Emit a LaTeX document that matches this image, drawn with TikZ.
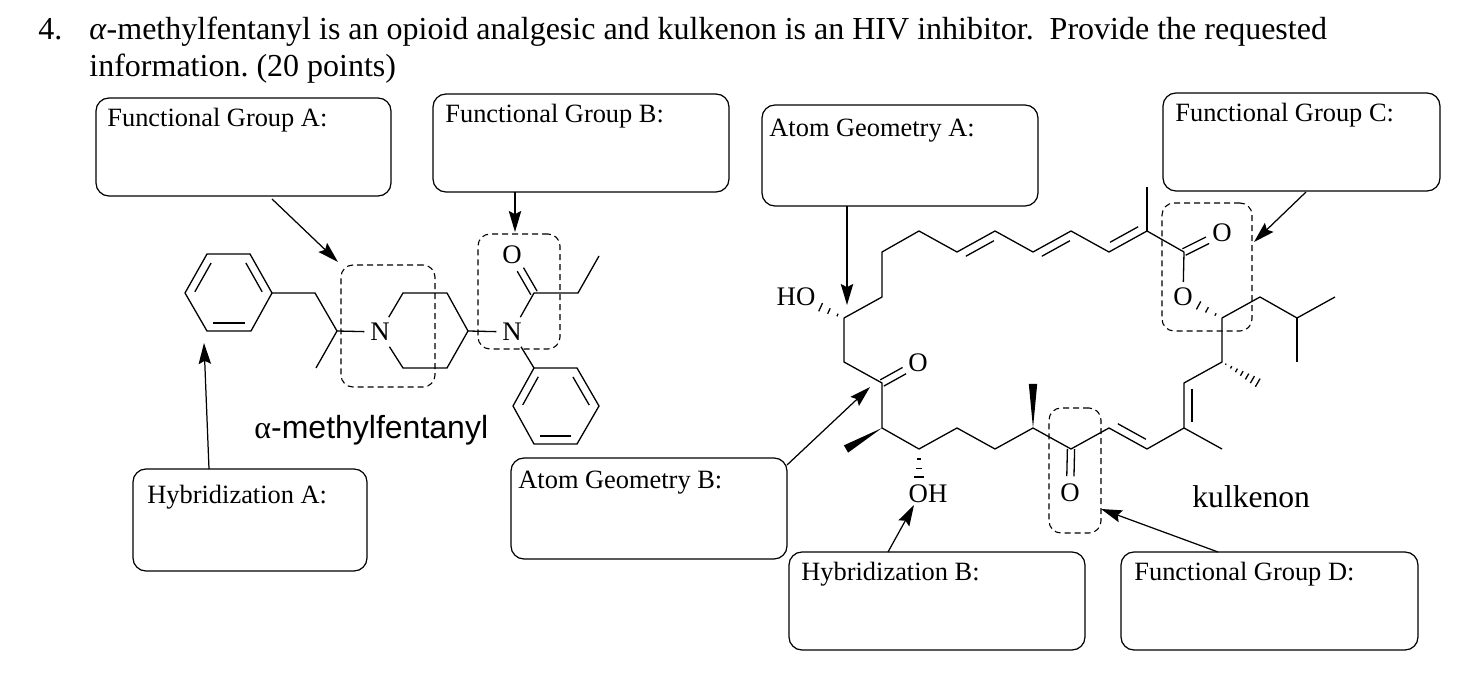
\documentclass[tikz,border=0pt]{standalone}
\usepackage{fontspec}
\setmainfont{Liberation Serif}
\newfontfamily\labelsans{Liberation Sans}
\usetikzlibrary{calc,arrows.meta}
\frenchspacing
\tikzset{
  bond/.style={line width=0.65pt,line join=miter,line cap=butt},
  atom/.style={inner sep=2.8pt,font=\fontsize{13.4}{15}\selectfont},
  textlabel/.style={anchor=base west,inner sep=0pt,font=\fontsize{13.2}{15}\selectfont},
  headline/.style={anchor=base west,inner sep=0pt,font=\fontsize{16}{18}\selectfont},
  infobox/.style={draw,line width=0.62pt,rounded corners=6.5pt,inner sep=0pt},
  dashbox/.style={draw,line width=0.55pt,rounded corners=6pt,inner sep=0pt,dash pattern=on 3pt off 2pt},
  pointer/.style={line width=0.62pt,-{Stealth[length=10.5pt,width=6.2pt,inset=1.6pt]}}
}
\newcommand{\tagbox}[5]{%
  \node[infobox,minimum width={(#4-#2)*0.5pt},minimum height={(#5-#3)*0.5pt}] (#1) at ({(#2+#4)/2},{(#3+#5)/2}) {};
}
\newcommand{\innerbond}[3]{%
  \draw[bond] ($(#1)!0.13!(#2)!4pt!#3:(#2)$) -- ($(#1)!0.87!(#2)!4pt!#3:(#2)$);
}
\newcommand{\twinbond}[2]{%
  \draw[bond] ($(#1)!1.8pt!90:(#2)$) -- ($(#1)!0.62!(#2)!1.8pt!90:(#2)$);
  \draw[bond] ($(#1)!1.8pt!-90:(#2)$) -- ($(#1)!0.62!(#2)!1.8pt!-90:(#2)$);
}
\newcommand{\hashed}[3]{%
  \foreach \t in {#3}{%
    \draw[line width=0.65pt] ($(#1)!\t!(#2)!{\t*2.4pt+0.1pt}!90:(#2)$) -- ($(#1)!\t!(#2)!{\t*2.4pt+0.1pt}!-90:(#2)$);
  }%
}
\newcommand{\wedged}[2]{%
  \fill (#1) -- ($(#2)!2.1pt!90:(#1)$) -- ($(#2)!2.1pt!-90:(#1)$) -- cycle;
}
\begin{document}
\begin{tikzpicture}[x=0.5pt,y=-0.5pt]
\useasboundingbox (0,0) rectangle (1468,678);
\node[headline] (num) at (38,39.5) {4.};
\node[headline] (h1) at (89,39.5) {\textit{α}-methylfentanyl is an opioid analgesic and kulkenon is an HIV inhibitor.\ \ Provide the requested};
\node[headline] (h2) at (89,76.5) {information. (20 points)};

\tagbox{fga}{96}{98}{391}{196}
\tagbox{fgb}{433}{94}{729}{192}
\tagbox{aga}{762}{105}{1038}{206}
\tagbox{fgc}{1163}{93}{1440}{191}
\tagbox{hya}{133}{469}{367}{571}
\tagbox{agb}{511}{458}{787}{559}
\tagbox{hyb}{789}{552}{1085}{650}
\tagbox{fgd}{1121}{552}{1418}{650}
\node[textlabel] (tfga) at (107,126.5) {Functional Group A:};
\node[textlabel] (tfgb) at (445,122.5) {Functional Group B:};
\node[textlabel] (taga) at (769,137) {Atom Geometry A:};
\node[textlabel] (tfgc) at (1175,122) {Functional Group C:};
\node[textlabel] (thya) at (147,503.5) {Hybridization A:};
\node[textlabel] (tagb) at (518,488.5) {Atom Geometry B:};
\node[textlabel] (thyb) at (801,580.5) {Hybridization B:};
\node[textlabel] (tfgd) at (1134,580.5) {Functional Group D:};

\coordinate (p1) at (185,293); \coordinate (p2) at (207,254); \coordinate (p3) at (250,254);
\coordinate (p4) at (272,293); \coordinate (p5) at (251,331); \coordinate (p6) at (207,331);
\draw[bond] (p1)--(p2)--(p3)--(p4)--(p5)--(p6)--cycle;
\innerbond{p1}{p2}{-90}\innerbond{p3}{p4}{-90}\innerbond{p5}{p6}{-90}
\coordinate (f1) at (315,293); \coordinate (f2) at (337,331); \coordinate (f3) at (316,368);
\node[atom] (n1) at (380,332) {N};
\coordinate (r1) at (403,293); \coordinate (r2) at (447,293); \coordinate (r3) at (468,331);
\coordinate (r4) at (447,368); \coordinate (r5) at (403,368);
\node[atom] (n2) at (512,332) {N};
\coordinate (k1) at (534,293); \coordinate (k2) at (578,293); \coordinate (k3) at (599,256);
\node[atom] (o1) at (512,255) {O};
\draw[bond] (p4)--(f1)--(f2)--(n1);
\draw[bond] (f2)--(f3);
\draw[bond] (n1)--(r1)--(r2)--(r3)--(r4)--(r5)--(n1);
\draw[bond] (r3)--(n2);
\draw[bond] (n2)--(k1)--(k2)--(k3);
\twinbond{k1}{o1}
\coordinate (q1) at (534,368); \coordinate (q2) at (577,368); \coordinate (q3) at (599,406);
\coordinate (q4) at (577,444); \coordinate (q5) at (534,444); \coordinate (q6) at (513,406);
\draw[bond] (n2)--(q1);
\draw[bond] (q1)--(q2)--(q3)--(q4)--(q5)--(q6)--cycle;
\innerbond{q2}{q3}{-90}\innerbond{q4}{q5}{-90}\innerbond{q6}{q1}{-90}
\node[anchor=base west,inner sep=0pt,font=\fontsize{16}{18}\selectfont] (mf) at (254,439) {α\labelsans -methylfentanyl};

\coordinate (c1) at (844,318); \coordinate (c2) at (882,297); \coordinate (c3) at (882,252);
\coordinate (c4) at (919,231); \coordinate (c5) at (957,252); \coordinate (c6) at (995,231);
\coordinate (c7) at (1033,252); \coordinate (c8) at (1071,231); \coordinate (c9) at (1109,252);
\coordinate (c10) at (1147,231); \coordinate (c11) at (1147,187); \coordinate (c12) at (1184,252);
\node[atom] (o2) at (1222,233) {O};
\node[atom] (o3) at (1183,297) {O};
\coordinate (c13) at (1222,318); \coordinate (c14) at (1260,297); \coordinate (c15) at (1297,318);
\coordinate (c16) at (1335,297); \coordinate (c17) at (1297,362); \coordinate (c18) at (1222,362);
\coordinate (c19) at (1260,384); \coordinate (c20) at (1184,383); \coordinate (c21) at (1184,428);
\coordinate (c22) at (1222,449); \coordinate (c23) at (1147,449); \coordinate (c24) at (1109,428);
\coordinate (c25) at (1071,449); \node[atom] (o4) at (1070,493) {O};
\coordinate (c26) at (1033,428); \coordinate (c27) at (1033,384);
\coordinate (c28) at (995,449); \coordinate (c29) at (957,428); \coordinate (c30) at (919,449);
\coordinate (c31) at (882,428); \coordinate (c32) at (846,449); \coordinate (c33) at (882,383);
\coordinate (c34) at (844,362);
\node[atom] (o5) at (918,363) {O};
\node[atom] (oh) at (928,494) {OH};
\coordinate (ohc) at (919,478);
\node[atom] (ho) at (796,297) {HO};
\coordinate (hoc) at (818,306);
\coordinate (o3c) at (1196,304);
\draw[bond] (c1)--(c2)--(c3)--(c4)--(c5)--(c6)--(c7)--(c8)--(c9)--(c10)--(c12);
\draw[bond] (c10)--(c11);
\draw[bond] (c12)--(o3);
\draw[bond] (c13)--(c14)--(c15)--(c16);
\draw[bond] (c15)--(c17);
\draw[bond] (c13)--(c18)--(c20)--(c21)--(c23)--(c24)--(c25)--(c26)--(c28)--(c29)--(c30)--(c31)--(c33)--(c34)--(c1);
\draw[bond] (c21)--(c22);
\innerbond{c5}{c6}{-90}\innerbond{c7}{c8}{-90}\innerbond{c9}{c10}{90}
\innerbond{c20}{c21}{90}\innerbond{c24}{c23}{90}
\twinbond{c12}{o2}
\twinbond{c25}{o4}
\twinbond{c33}{o5}
\wedged{c26}{c27}
\wedged{c31}{c32}
\hashed{c1}{hoc}{0.25,0.58,0.9}
\hashed{c13}{o3c}{0.25,0.58,0.9}
\hashed{c18}{c19}{0.1,0.24,0.38,0.52,0.66,0.8,0.94}
\hashed{c30}{ohc}{0.35,0.68,0.97}
\node[anchor=base west,inner sep=0pt,font=\fontsize{15.8}{18}\selectfont] (kl) at (1192,508) {kulkenon};

\node[dashbox,minimum width=47pt,minimum height=61pt] (da) at (388,326) {};
\node[dashbox,minimum width=41pt,minimum height=57.5pt] (db) at (519,291.5) {};
\node[dashbox,minimum width=45pt,minimum height=64pt] (dc) at (1207,267) {};
\node[dashbox,minimum width=26pt,minimum height=62.5pt] (dd) at (1075,470.5) {};

\coordinate (a1s) at (272,199); \coordinate (a1t) at (338,262);
\coordinate (a2s) at (515,192); \coordinate (a2t) at (515,232);
\coordinate (a3s) at (847,206); \coordinate (a3t) at (847,305);
\coordinate (a4s) at (1306,192); \coordinate (a4t) at (1254,242);
\coordinate (a5s) at (1218,552); \coordinate (a5t) at (1101,509);
\coordinate (a6s) at (787,465); \coordinate (a6t) at (870,387);
\coordinate (a7s) at (888,552); \coordinate (a7t) at (914,505);
\coordinate (a8s) at (209,469); \coordinate (a8t) at (204,343);
\draw[pointer] (a1s)--(a1t);
\draw[pointer] (a2s)--(a2t);
\draw[pointer] (a3s)--(a3t);
\draw[pointer] (a4s)--(a4t);
\draw[pointer] (a5s)--(a5t);
\draw[pointer] (a6s)--(a6t);
\draw[pointer] (a7s)--(a7t);
\draw[pointer] (a8s)--(a8t);
\end{tikzpicture}
\end{document}
